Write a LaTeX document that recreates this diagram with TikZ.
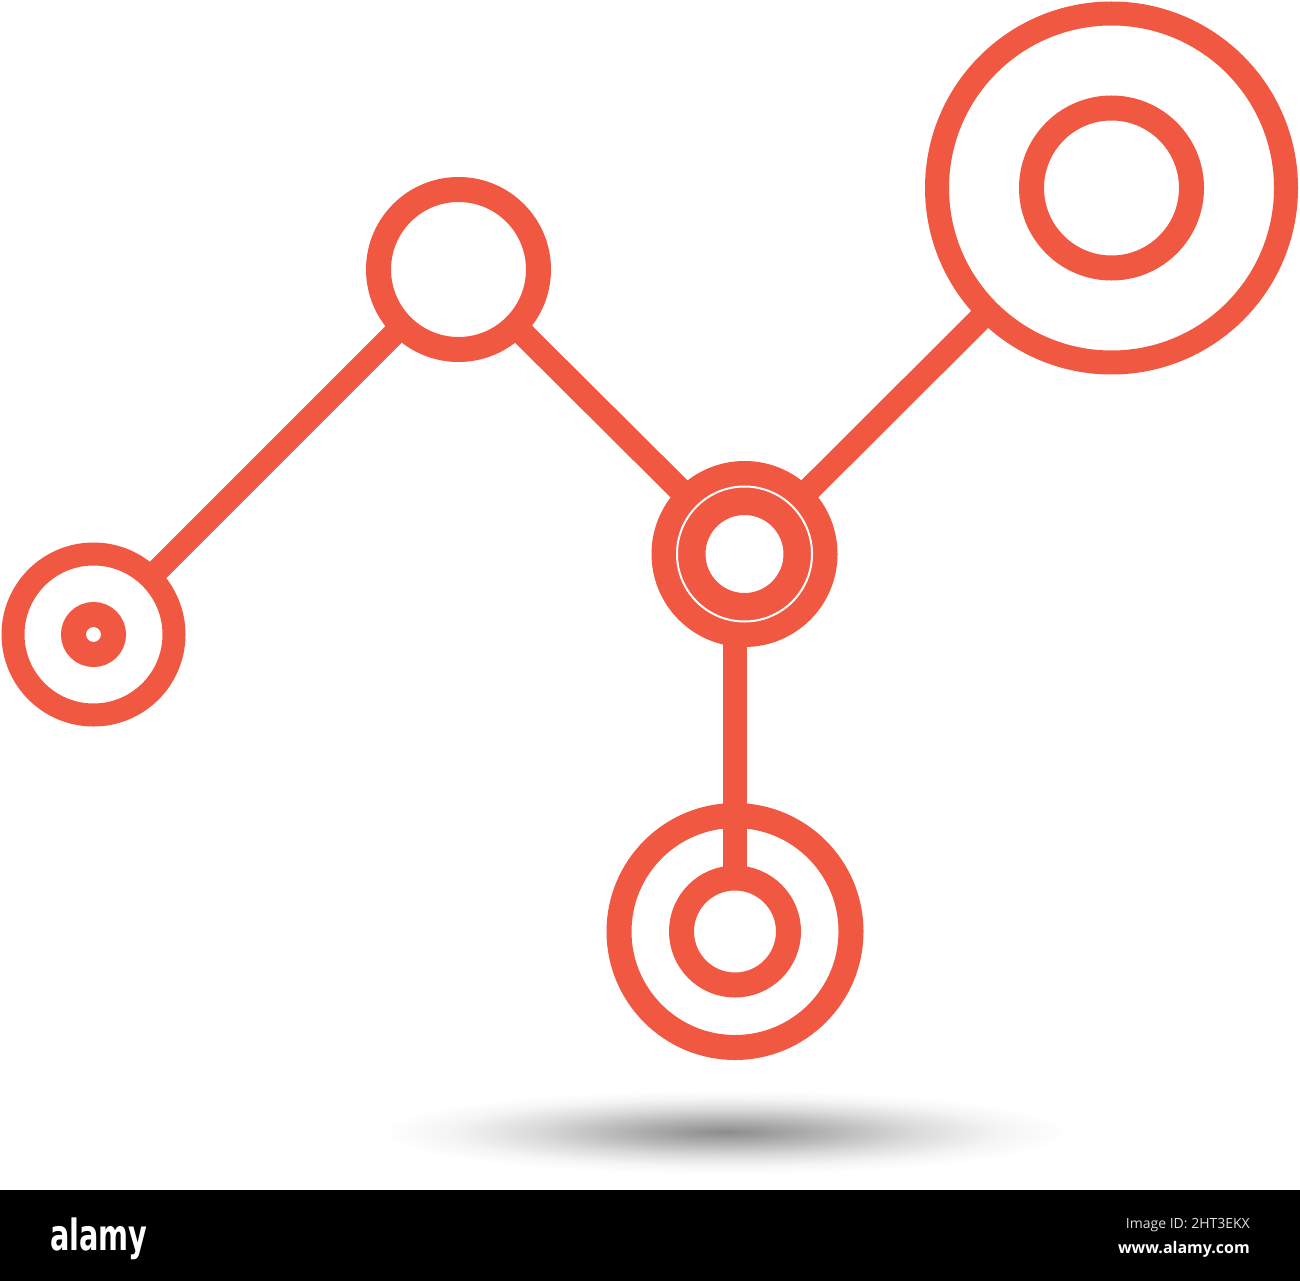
\documentclass[tikz,border=0pt]{standalone}
\usepackage{fontspec}
\setmainfont{Open Sans}
\newfontfamily\logofont[FakeStretch=0.67]{DejaVu Sans}
\definecolor{coral}{RGB}{240,88,66}
\pgfdeclareradialshading{floorshadow}{\pgfpoint{0bp}{0bp}}{color(0bp)=(black!45); color(6bp)=(black!32); color(14bp)=(black!14); color(20bp)=(black!4); color(25bp)=(white); color(50bp)=(white)}
\begin{document}
\begin{tikzpicture}[x=1pt, y=-1pt,
  ring/.style={circle, draw=coral, inner sep=0pt, outer sep=0pt},
  link/.style={draw=coral, line width=24pt}]
  \useasboundingbox (0,0) rectangle (1300,1281);
  \shade[shading=floorshadow] (725,1132) ellipse (345 and 42);
  % nodes
  \node[ring, line width=23pt, minimum size=161pt] (start) at (93.5,634.5) {};
  \node[ring, line width=25pt, minimum size=40pt]  (startcore) at (start) {};
  \node[ring, line width=25pt, minimum size=160pt] (peak) at (458.5,269.5) {};
  \node[ring, line width=54pt, minimum size=132pt] (hub) at (744.5,554) {};
  \node[ring, draw=white, line width=2pt, minimum size=135pt] (hubmark) at (hub) {};
  \node[ring, line width=24pt, minimum size=349pt] (goal) at (1111.5,188) {};
  \node[ring, line width=25pt, minimum size=160pt] (goalcore) at (goal) {};
  \node[ring, line width=25pt, minimum size=232pt] (drop) at (735,931.5) {};
  \node[ring, line width=25pt, minimum size=107pt] (dropcore) at (drop) {};
  % links
  \draw[link, line width=23pt, shorten <=82pt, shorten >=86pt] (start.center) -- (peak.center);
  \draw[link, shorten <=87pt, shorten >=80pt] (peak.center) -- (hub.center);
  \draw[link, shorten <=88pt, shorten >=181pt] (hub.center) -- (goal.center);
  \draw[link, shorten <=84pt, shorten >=53.5pt] (drop |- hub) -- (drop.center);
  % footer
  \fill[black] (0,1190) rectangle (1300,1281);
  \node[anchor=base west, inner sep=0pt, text=white, font=\logofont\bfseries\fontsize{43}{43}\selectfont] (logo) at (50,1250) {alamy};
  \node[anchor=base east, inner sep=0pt, text=white!88!black, font=\fontsize{14}{14}\selectfont] (imageid) at (1250,1228) {Image ID: 2HT3EKX};
  \node[anchor=base east, inner sep=0pt, text=white, font=\bfseries\fontsize{16}{16}\selectfont] (site) at (1250,1253) {www.alamy.com};
\end{tikzpicture}
\end{document}
